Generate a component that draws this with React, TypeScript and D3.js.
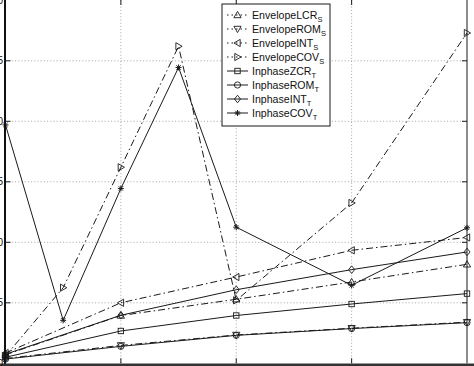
import React from 'react';
import * as d3 from 'd3';

const W = 474;
const H = 366;

const xGrid = [0, 2, 4, 6, 8];
const yGrid = [0, 5, 10, 15, 20, 25, 30];
const yTickLabels = ['0', '5', '10', '15', '20', '25', '30'];

const covX = [0, 1, 2, 3, 4, 6, 8];
const baseX = [0, 2, 4, 6, 8];

const envelopeLCR = [0.7, 3.95, 5.29, 6.72, 8.18];
const envelopeROM = [0.4, 1.48, 2.34, 2.9, 3.4];
const envelopeINT = [0.85, 5.0, 7.13, 9.34, 10.4];
const envelopeCOV = [0.6, 6.25, 16.2, 26.2, 5.2, 13.25, 27.3];
const inphaseZCR = [0.5, 2.67, 3.95, 4.9, 5.76];
const inphaseROM = [0.35, 1.4, 2.31, 2.87, 3.36];
const inphaseINT = [0.75, 3.97, 6.08, 7.74, 9.2];
const inphaseCOV = [19.7, 3.55, 14.45, 24.45, 11.25, 6.45, 11.2];

const seriesNames = ['EnvelopeLCR', 'EnvelopeROM', 'EnvelopeINT', 'EnvelopeCOV', 'InphaseZCR', 'InphaseROM', 'InphaseINT', 'InphaseCOV'];
const seriesSubs = ['S', 'S', 'S', 'S', 'T', 'T', 'T', 'T'];

type Marker = 'up' | 'down' | 'left' | 'right' | 'square' | 'circle' | 'diamond' | 'star';

const series: { name: string; sub: string; xs: number[]; ys: number[]; dash: boolean; marker: Marker }[] = [
  { name: seriesNames[0], sub: seriesSubs[0], xs: baseX, ys: envelopeLCR, dash: true, marker: 'up' },
  { name: seriesNames[1], sub: seriesSubs[1], xs: baseX, ys: envelopeROM, dash: true, marker: 'down' },
  { name: seriesNames[2], sub: seriesSubs[2], xs: baseX, ys: envelopeINT, dash: true, marker: 'left' },
  { name: seriesNames[3], sub: seriesSubs[3], xs: covX, ys: envelopeCOV, dash: true, marker: 'right' },
  { name: seriesNames[4], sub: seriesSubs[4], xs: baseX, ys: inphaseZCR, dash: false, marker: 'square' },
  { name: seriesNames[5], sub: seriesSubs[5], xs: baseX, ys: inphaseROM, dash: false, marker: 'circle' },
  { name: seriesNames[6], sub: seriesSubs[6], xs: baseX, ys: inphaseINT, dash: false, marker: 'diamond' },
  { name: seriesNames[7], sub: seriesSubs[7], xs: covX, ys: inphaseCOV, dash: false, marker: 'star' },
];

const LEFT = 5.5;
const RIGHT = 467;
const BOTTOM = 363.3;
const TOP = 0.3;

const x = d3.scaleLinear().domain([0, 8]).range([LEFT, RIGHT]);
const y = d3.scaleLinear().domain([0, 30]).range([BOTTOM, TOP]);

const INK = '#1a1a1a';
const DASH = '7,3,1.5,3';

function MarkerShape({ type, cx, cy }: { type: Marker; cx: number; cy: number }) {
  const s = 3.6;
  const common = { fill: 'none', stroke: INK, strokeWidth: 0.9 };
  switch (type) {
    case 'up':
      return <polygon {...common} points={`${cx},${cy - s} ${cx - s},${cy + s * 0.75} ${cx + s},${cy + s * 0.75}`} />;
    case 'down':
      return <polygon {...common} points={`${cx},${cy + s} ${cx - s},${cy - s * 0.75} ${cx + s},${cy - s * 0.75}`} />;
    case 'left':
      return <polygon {...common} points={`${cx - s},${cy} ${cx + s * 0.75},${cy - s} ${cx + s * 0.75},${cy + s}`} />;
    case 'right':
      return <polygon {...common} points={`${cx + s},${cy} ${cx - s * 0.75},${cy - s} ${cx - s * 0.75},${cy + s}`} />;
    case 'square':
      return <rect {...common} x={cx - 2.7} y={cy - 2.7} width={5.4} height={5.4} />;
    case 'circle':
      return <circle {...common} cx={cx} cy={cy} r={3.1} />;
    case 'diamond':
      return <polygon {...common} points={`${cx},${cy - 3.8} ${cx + 3},${cy} ${cx},${cy + 3.8} ${cx - 3},${cy}`} />;
    case 'star': {
      const r = 3;
      const d = r * 0.72;
      return (
        <g stroke={INK} strokeWidth={1}>
          <line x1={cx - r} y1={cy} x2={cx + r} y2={cy} />
          <line x1={cx} y1={cy - r} x2={cx} y2={cy + r} />
          <line x1={cx - d} y1={cy - d} x2={cx + d} y2={cy + d} />
          <line x1={cx - d} y1={cy + d} x2={cx + d} y2={cy - d} />
        </g>
      );
    }
  }
  return null;
}

export default function App() {
  const line = d3
    .line<[number, number]>()
    .x((d) => x(d[0]))
    .y((d) => y(d[1]));

  const legendX = 222;
  const legendY = 4;
  const legendW = 108;
  const legendH = 122;
  const rowStart = 11;
  const rowStep = 14;

  return (
    <svg
      width={W}
      height={H}
      style={{ position: 'absolute', left: 0, top: 0, background: '#fff' }}
      fontFamily="'Liberation Sans', Arial, Helvetica, sans-serif"
    >
      <rect x={0} y={0} width={W} height={H} fill="#fff" />
      {/* grid */}
      <g stroke="#9a9a9a" strokeWidth={0.9} strokeDasharray="1,2.2">
        {xGrid.slice(1, -1).map((v) => (
          <line key={'gx' + v} x1={x(v)} x2={x(v)} y1={TOP} y2={BOTTOM} />
        ))}
        {yGrid.slice(1, -1).map((v) => (
          <line key={'gy' + v} x1={LEFT} x2={RIGHT} y1={y(v)} y2={y(v)} />
        ))}
      </g>
      {/* series */}
      {series.map((s) => (
        <g key={s.name}>
          <path
            d={line(s.xs.map((xv, i) => [xv, s.ys[i]] as [number, number])) || ''}
            fill="none"
            stroke={INK}
            strokeWidth={1}
            strokeDasharray={s.dash ? DASH : undefined}
          />
          {s.xs.map((xv, i) => (
            <MarkerShape key={i} type={s.marker} cx={x(xv)} cy={y(s.ys[i])} />
          ))}
        </g>
      ))}
      {/* frame */}
      <line x1={RIGHT} x2={RIGHT} y1={-2} y2={BOTTOM} stroke={INK} strokeWidth={1} />
      <line x1={LEFT - 0.5} x2={LEFT - 0.5} y1={-2} y2={H} stroke="#111" strokeWidth={2} />
      <line x1={0} x2={W} y1={BOTTOM + 1.5} y2={BOTTOM + 1.5} stroke="#333" strokeWidth={2.5} />
      {/* ticks */}
      <g stroke={INK} strokeWidth={1}>
        {xGrid.slice(1, -1).map((v) => (
          <g key={'tx' + v}>
            <line x1={x(v)} x2={x(v)} y1={0} y2={5} />
            <line x1={x(v)} x2={x(v)} y1={BOTTOM} y2={BOTTOM - 5} />
          </g>
        ))}
        {yGrid.slice(1, -1).map((v) => (
          <g key={'ty' + v}>
            <line x1={LEFT} x2={LEFT + 5} y1={y(v)} y2={y(v)} />
            <line x1={RIGHT} x2={RIGHT - 5} y1={y(v)} y2={y(v)} />
          </g>
        ))}
      </g>
      {/* y tick labels (cropped by the figure edge, as in the reference) */}
      <g fontSize={10} fill="#111" textAnchor="end">
        {yGrid.map((v, i) => (
          <text key={'yl' + v} x={3} y={y(v) + 3.5}>
            {yTickLabels[i]}
          </text>
        ))}
      </g>
      {/* legend */}
      <rect x={legendX} y={legendY} width={legendW} height={legendH} fill="#fff" stroke={INK} strokeWidth={1} />
      {series.map((s, i) => {
        const cy = legendY + rowStart + i * rowStep;
        return (
          <g key={'lg' + s.name}>
            <line
              x1={legendX + 5}
              x2={legendX + 26}
              y1={cy}
              y2={cy}
              stroke={INK}
              strokeWidth={1}
              strokeDasharray={s.dash ? '1.5,3,1.5,3' : undefined}
            />
            <MarkerShape type={s.marker} cx={legendX + 15.5} cy={cy} />
            <text x={legendX + 30} y={cy + 3.8} fontSize={10.6} fill="#111">
              {s.name}
              <tspan fontSize={7.5} dy={3.5}>
                {s.sub}
              </tspan>
            </text>
          </g>
        );
      })}
    </svg>
  );
}
